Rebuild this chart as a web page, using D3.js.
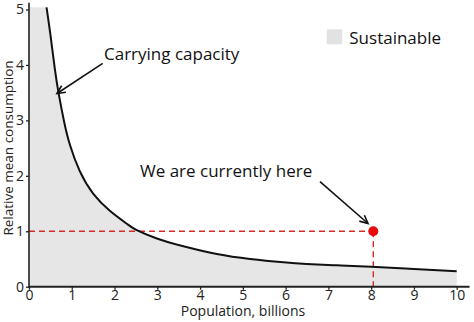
<!DOCTYPE html>
<html><head><meta charset="utf-8">
<script src="https://cdn.jsdelivr.net/npm/d3@7"></script>
<style>
html,body{margin:0;padding:0;background:#fff;}
svg{display:block;font-family:"Open Sans", sans-serif;}
</style></head>
<body>
<svg id="chart" width="474" height="322"></svg>
<script>
// Carrying capacity curve
const popX = [0.41, 0.5, 0.6, 0.69, 0.82, 0.96, 1.19, 1.5, 1.89, 2.28, 2.52, 2.99, 3.61, 4.39, 5.17, 5.95, 6.49, 7.2, 8, 9, 10];
const consY = [5.04, 4.55, 3.95, 3.5, 2.98, 2.55, 2.08, 1.68, 1.37, 1.14, 1.02, 0.87, 0.73, 0.59, 0.5, 0.44, 0.41, 0.385, 0.36, 0.32, 0.28];
const currentPoint = [8.05, 1.0];
const xTicks = [0,1,2,3,4,5,6,7,8,9,10];
const yTicks = [0,1,2,3,4,5];
const labels = {
  xTitle: "Population, billions",
  yTitle: "Relative mean consumption",
  curve: "Carrying capacity",
  here: "We are currently here",
  legend: "Sustainable"
};

const svg = d3.select("#chart");
const x = d3.scaleLinear().domain([0,10]).range([29, 456.7]);
const y = d3.scaleLinear().domain([0,5]).range([286.7, 9.5]);

const curve = popX.map((v,i)=>({x:v, y:consY[i]}));

const lineCurve = d3.curveNatural;
// fill
svg.append("path")
  .datum(curve)
  .attr("fill", "#e6e6e6")
  .attr("d", d3.area().x(d=>x(d.x)).y0(y(0)).y1(d=>y(d.y)).curve(lineCurve));
svg.append("rect").attr("x", x(0)).attr("y", y(consY[0])).attr("width", x(popX[0]) - x(0) + 0.5)
  .attr("height", y(0) - y(consY[0])).attr("fill", "#e6e6e6");

// dashed guides
const red = "#d42a2a";
svg.append("line")
  .attr("x1", x(0)).attr("x2", x(currentPoint[0]))
  .attr("y1", y(currentPoint[1])).attr("y2", y(currentPoint[1]))
  .attr("stroke", red).attr("stroke-width", 1.4).attr("stroke-dasharray", "6,4");
svg.append("line")
  .attr("x1", x(currentPoint[0])).attr("x2", x(currentPoint[0]))
  .attr("y1", y(currentPoint[1])).attr("y2", y(0))
  .attr("stroke", red).attr("stroke-width", 1.4).attr("stroke-dasharray", "6,4");

// curve
svg.append("path")
  .datum(curve)
  .attr("fill", "none").attr("stroke", "#111").attr("stroke-width", 2)
  .attr("d", d3.line().x(d=>x(d.x)).y(d=>y(d.y)).curve(lineCurve));

// axes
const xAxis = svg.append("g").attr("transform", `translate(0,${y(0)})`)
  .call(d3.axisBottom(x).tickValues(xTicks).tickSize(3).tickPadding(0).tickFormat(d3.format("d")));
const yAxis = svg.append("g").attr("transform", `translate(${x(0)},0)`)
  .call(d3.axisLeft(y).tickValues(yTicks).tickSize(3).tickPadding(2).tickFormat(d3.format("d")));
[xAxis, yAxis].forEach(g=>{
  g.select(".domain").remove();
  g.selectAll(".tick line").attr("stroke", "#222").attr("stroke-width", 1.3);
  g.selectAll(".tick text").attr("fill", "#222").style("font-size", "14px").style("font-family", "'Open Sans', sans-serif");
});
svg.append("line").attr("x1", x(0)).attr("x2", x(10.3)).attr("y1", y(0)).attr("y2", y(0))
  .attr("stroke", "#222").attr("stroke-width", 2);
svg.append("line").attr("x1", x(0)).attr("x2", x(0)).attr("y1", y(0)+1).attr("y2", y(5.12))
  .attr("stroke", "#222").attr("stroke-width", 1.6);

// axis titles
svg.append("text").attr("x", 243).attr("y", 316).attr("text-anchor", "middle")
  .style("font-size", "14px").attr("fill", "#222").text(labels.xTitle);
svg.append("text").attr("transform", "translate(13,148) rotate(-90)").attr("text-anchor", "middle")
  .style("font-size", "13.5px").attr("fill", "#222").text(labels.yTitle);

// current point
svg.append("circle").attr("cx", x(currentPoint[0])).attr("cy", y(currentPoint[1])).attr("r", 5)
  .attr("fill", "#e80c0c");

// annotations
function arrow(x1,y1,x2,y2){
  svg.append("line").attr("x1",x1).attr("y1",y1).attr("x2",x2).attr("y2",y2)
    .attr("stroke","#111").attr("stroke-width",1.6);
  const a = Math.atan2(y2-y1, x2-x1), L = 9, w = 0.45;
  const p1 = [x2 - L*Math.cos(a-w), y2 - L*Math.sin(a-w)];
  const p2 = [x2 - L*Math.cos(a+w), y2 - L*Math.sin(a+w)];
  svg.append("path").attr("d", `M${p1[0]},${p1[1]}L${x2},${y2}L${p2[0]},${p2[1]}`)
    .attr("fill","none").attr("stroke","#111").attr("stroke-width",1.6);
}
svg.append("text").attr("x", 104).attr("y", 60).style("font-size", "17px").attr("fill", "#111").text(labels.curve);
arrow(102.7, 63.3, 57, 93.5);
svg.append("text").attr("x", 140).attr("y", 176.5).style("font-size", "17px").attr("fill", "#111").text(labels.here);
arrow(320, 181.7, 368, 223.5);

// legend
svg.append("rect").attr("x", 326.7).attr("y", 29.3).attr("width", 15.5).attr("height", 15).attr("fill", "#e2e2e2");
svg.append("text").attr("x", 349.3).attr("y", 43.5).style("font-size", "17px").attr("fill", "#111").text(labels.legend);
</script>
</body></html>
